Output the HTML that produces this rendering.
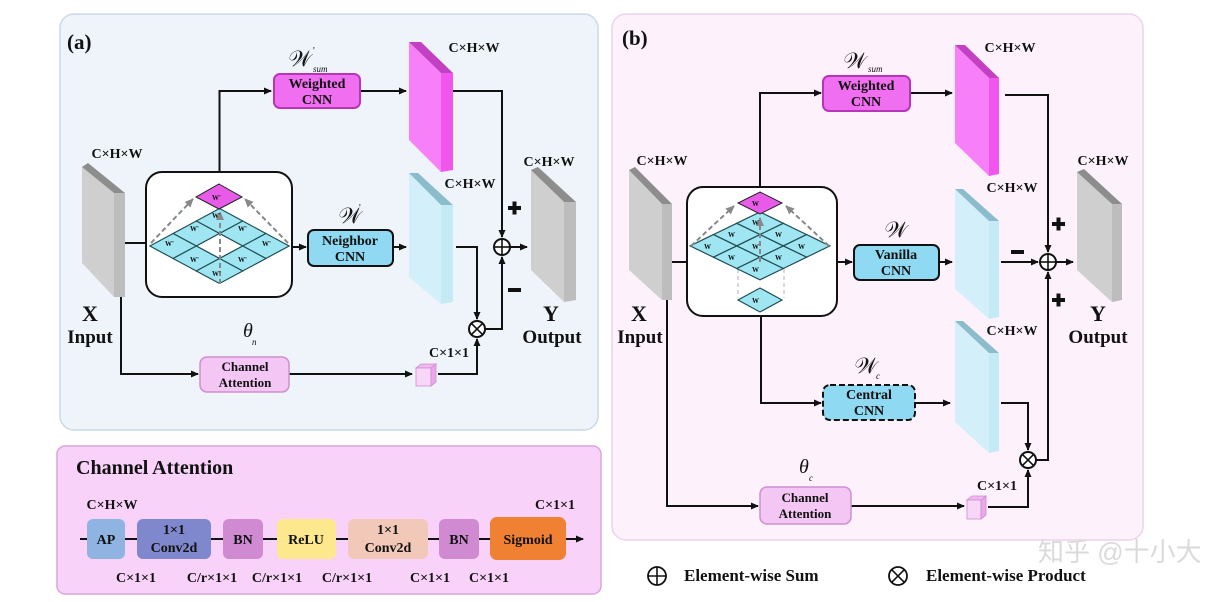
<!DOCTYPE html>
<html><head><meta charset="utf-8"><style>
html,body{margin:0;padding:0;background:#fff;}
svg{display:block;}
text{font-family:"Liberation Serif","Noto Serif CJK SC",serif;font-weight:bold;fill:#111;}
</style></head><body>
<svg width="1222" height="602" viewBox="0 0 1222 602" xmlns="http://www.w3.org/2000/svg">
<defs>
<marker id="ar" markerWidth="8" markerHeight="8" refX="7" refY="4" orient="auto" markerUnits="userSpaceOnUse"><path d="M0,0.5 L8,4 L0,7.5 z" fill="#111"/></marker>
<marker id="ag" markerWidth="9" markerHeight="9" refX="8" refY="4.5" orient="auto" markerUnits="userSpaceOnUse"><path d="M0,0.5 L9,4.5 L0,8.5 z" fill="#888"/></marker>
</defs>

<rect x="60" y="14" width="538" height="416" rx="14" fill="#eef4fa" stroke="#c9d9ea" stroke-width="1.5"/>
<rect x="612" y="14" width="531" height="526" rx="14" fill="#fdf1fb" stroke="#ecd3ea" stroke-width="1.5"/>
<rect x="57" y="446" width="544" height="148" rx="8" fill="#f8d2f8" stroke="#d9a6d9" stroke-width="1.5"/>

<!-- ===== Panel (a) ===== -->
<text x="67" y="49" font-size="21">(a)</text>

<polygon points="82,167 114,193 114,297 82,263" fill="#cfcfcf"/>
<polygon points="114,193 125,193 125,297 114,297" fill="#bdbdbd"/>
<polygon points="82,167 88,163 125,193 114,193" fill="#8d8d8d"/>
<text x="117" y="158" font-size="14" text-anchor="middle">C×H×W</text>
<text x="90" y="321" font-size="22" text-anchor="middle">X</text>
<text x="90" y="343" font-size="19" text-anchor="middle">Input</text>

<rect x="146" y="172" width="146" height="125" rx="16" fill="#fff" stroke="#111" stroke-width="2"/>
<g transform="matrix(23.2,12.5,-23.2,12.5,219.5,208.5)">
<g fill="#9fe6f2" stroke="#1f4f55" stroke-width="1.2">
<rect x="0" y="0" width="1" height="1" vector-effect="non-scaling-stroke"/>
<rect x="1" y="0" width="1" height="1" vector-effect="non-scaling-stroke"/>
<rect x="2" y="0" width="1" height="1" vector-effect="non-scaling-stroke"/>
<rect x="0" y="1" width="1" height="1" vector-effect="non-scaling-stroke"/>
<rect x="1" y="1" width="1" height="1" fill="#fff" vector-effect="non-scaling-stroke"/>
<rect x="2" y="1" width="1" height="1" vector-effect="non-scaling-stroke"/>
<rect x="0" y="2" width="1" height="1" vector-effect="non-scaling-stroke"/>
<rect x="1" y="2" width="1" height="1" vector-effect="non-scaling-stroke"/>
<rect x="2" y="2" width="1" height="1" vector-effect="non-scaling-stroke"/>
</g></g>
<polygon points="219,184 242,197 219,209 196,197" fill="#e85ae8" stroke="#222" stroke-width="1"/>
<g stroke="#888" stroke-width="2" stroke-dasharray="5,3" fill="none">
<line x1="151" y1="243" x2="193" y2="199" marker-end="url(#ag)"/>
<line x1="288" y1="243" x2="245" y2="199" marker-end="url(#ag)"/>
<line x1="220" y1="284" x2="220" y2="212" marker-end="url(#ag)"/>
</g>
<g font-size="7" fill="#335">
<text x="165" y="246">W'</text><text x="190" y="231">W'</text><text x="212" y="218">W'</text>
<text x="238" y="231">W'</text><text x="262" y="246">W'</text><text x="190" y="262">W'</text>
<text x="238" y="262">W'</text><text x="212" y="276">W'</text><text x="212" y="200">W'</text>
</g>

<g stroke="#111" stroke-width="2" fill="none">
<line x1="125" y1="243" x2="146" y2="243"/>
<polyline points="219.5,172 219.5,91 271,91" marker-end="url(#ar)"/>
<line x1="360" y1="91" x2="406" y2="91" marker-end="url(#ar)"/>
<polyline points="452,91 502,91 502,237" marker-end="url(#ar)"/>
<line x1="292" y1="247" x2="306" y2="247" marker-end="url(#ar)"/>
<line x1="393" y1="247" x2="406" y2="247" marker-end="url(#ar)"/>
<polyline points="456,247 477,247 477,319" marker-end="url(#ar)"/>
<polyline points="485,329 502,329 502,257" marker-end="url(#ar)"/>
<line x1="510" y1="247" x2="527" y2="247" marker-end="url(#ar)"/>
<polyline points="121,297 121,374 198,374" marker-end="url(#ar)"/>
<line x1="289" y1="374" x2="412" y2="374" marker-end="url(#ar)"/>
<polyline points="438,374 477,374 477,339" marker-end="url(#ar)"/>
</g>

<rect x="274" y="74" width="86" height="34" rx="6" fill="#f06ef0" stroke="#b834b8" stroke-width="2"/>
<text x="317" y="88" font-size="14" text-anchor="middle">Weighted</text>
<text x="317" y="104" font-size="14" text-anchor="middle">CNN</text>
<text x="300" y="66" font-size="22" text-anchor="middle" style="font-weight:normal">𝒲</text>
<text x="313" y="72" font-size="9" font-style="italic" style="font-weight:normal">sum</text>
<text x="313" y="54" font-size="10" style="font-weight:normal">'</text>

<polygon points="409,42 441,73 441,172 409,140" fill="#f77ff7"/>
<polygon points="441,73 453,73 453,170 441,172" fill="#f055ee"/>
<polygon points="409,42 421,42 453,73 441,73" fill="#c340c3"/>
<text x="474" y="52" font-size="14" text-anchor="middle">C×H×W</text>

<rect x="308" y="230" width="85" height="36" rx="6" fill="#8fd9f2" stroke="#111" stroke-width="2"/>
<text x="350" y="245" font-size="14" text-anchor="middle">Neighbor</text>
<text x="350" y="261" font-size="14" text-anchor="middle">CNN</text>
<text x="350" y="223" font-size="22" text-anchor="middle" style="font-weight:normal">𝒲</text>
<text x="359" y="211" font-size="10" style="font-weight:normal">'</text>

<polygon points="409,173 441,205 441,304 409,277" fill="#d3f0fa"/>
<polygon points="441,205 453,205 453,302 441,304" fill="#c4eaf6"/>
<polygon points="409,173 418,173 453,205 441,205" fill="#8bbccc"/>
<text x="470" y="188" font-size="14" text-anchor="middle">C×H×W</text>

<circle cx="502" cy="247" r="8" fill="#fff" stroke="#111" stroke-width="2"/>
<line x1="494" y1="247" x2="510" y2="247" stroke="#111" stroke-width="1.6"/>
<line x1="502" y1="239" x2="502" y2="255" stroke="#111" stroke-width="1.6"/>
<circle cx="477" cy="329" r="8" fill="#fff" stroke="#111" stroke-width="2"/>
<line x1="471.3" y1="323.3" x2="482.7" y2="334.7" stroke="#111" stroke-width="1.6"/>
<line x1="482.7" y1="323.3" x2="471.3" y2="334.7" stroke="#111" stroke-width="1.6"/>
<rect x="508" y="206" width="13" height="4" fill="#111"/>
<rect x="512.5" y="201.5" width="4" height="13" fill="#111"/>
<rect x="508" y="288" width="13" height="4" fill="#111"/>

<polygon points="531,170 564,202 564,302 531,270" fill="#cfcfcf"/>
<polygon points="564,202 576,202 576,300 564,302" fill="#bdbdbd"/>
<polygon points="531,170 538,167 576,202 564,202" fill="#8d8d8d"/>
<text x="549" y="166" font-size="14" text-anchor="middle">C×H×W</text>
<text x="551" y="321" font-size="22" text-anchor="middle">Y</text>
<text x="552" y="343" font-size="19" text-anchor="middle">Output</text>

<rect x="200" y="357" width="89" height="35" rx="7" fill="#f3c6f3" stroke="#cf8fcf" stroke-width="1.5"/>
<text x="245" y="371" font-size="13" text-anchor="middle">Channel</text>
<text x="245" y="387" font-size="13" text-anchor="middle">Attention</text>
<text x="243" y="337" font-size="20" font-style="italic" style="font-weight:normal">θ</text>
<text x="252" y="345" font-size="9" font-style="italic" style="font-weight:normal">n</text>
<polygon points="416,368 431,368 436,364 421,364" fill="#f0b8f0" stroke="#d08ad0" stroke-width="0.8"/>
<rect x="416" y="368" width="15" height="18" fill="#f8d6f8" stroke="#d08ad0" stroke-width="0.8"/>
<polygon points="431,368 436,364 436,382 431,386" fill="#eaa8ea" stroke="#d08ad0" stroke-width="0.8"/>
<text x="449" y="357" font-size="14" text-anchor="middle">C×1×1</text>

<!-- ===== Panel (b) ===== -->
<text x="622" y="45" font-size="21">(b)</text>

<polygon points="629,170 662,204 662,300 629,270" fill="#cfcfcf"/>
<polygon points="662,204 672,204 672,300 662,300" fill="#bdbdbd"/>
<polygon points="629,170 635,167 672,204 662,204" fill="#8d8d8d"/>
<text x="662" y="165" font-size="14" text-anchor="middle">C×H×W</text>
<text x="639" y="321" font-size="22" text-anchor="middle">X</text>
<text x="640" y="343" font-size="19" text-anchor="middle">Input</text>

<rect x="687" y="187" width="150" height="129" rx="16" fill="#fff" stroke="#111" stroke-width="2"/>
<g stroke="#ccc" stroke-width="1.5" stroke-dasharray="4,3">
<line x1="738" y1="262" x2="738" y2="298"/>
<line x1="784" y1="262" x2="784" y2="298"/>
</g>
<g transform="matrix(23.3,11.3,-23.3,11.3,760,212)">
<g fill="#9fe6f2" stroke="#1f4f55" stroke-width="1.2">
<rect x="0" y="0" width="1" height="1" vector-effect="non-scaling-stroke"/>
<rect x="1" y="0" width="1" height="1" vector-effect="non-scaling-stroke"/>
<rect x="2" y="0" width="1" height="1" vector-effect="non-scaling-stroke"/>
<rect x="0" y="1" width="1" height="1" vector-effect="non-scaling-stroke"/>
<rect x="1" y="1" width="1" height="1" vector-effect="non-scaling-stroke"/>
<rect x="2" y="1" width="1" height="1" vector-effect="non-scaling-stroke"/>
<rect x="0" y="2" width="1" height="1" vector-effect="non-scaling-stroke"/>
<rect x="1" y="2" width="1" height="1" vector-effect="non-scaling-stroke"/>
<rect x="2" y="2" width="1" height="1" vector-effect="non-scaling-stroke"/>
</g></g>
<polygon points="760,192 782,203 760,214 738,203" fill="#e85ae8" stroke="#222" stroke-width="1"/>
<polygon points="760,288 782,300 760,312 738,300" fill="#9fe6f2" stroke="#1f4f55" stroke-width="1.2"/>
<g stroke="#888" stroke-width="2" stroke-dasharray="5,3" fill="none">
<line x1="691" y1="246" x2="734" y2="206" marker-end="url(#ag)"/>
<line x1="829" y1="246" x2="786" y2="206" marker-end="url(#ag)"/>
<line x1="760" y1="262" x2="760" y2="218" marker-end="url(#ag)"/>
</g>
<g font-size="7" fill="#335">
<text x="704" y="249">W</text><text x="728" y="237">W</text><text x="752" y="225">W</text>
<text x="775" y="237">W</text><text x="798" y="249">W</text><text x="728" y="260">W</text>
<text x="752" y="249">W</text><text x="775" y="260">W</text><text x="752" y="272">W</text>
<text x="752" y="303">W</text><text x="752" y="206">W</text>
</g>

<g stroke="#111" stroke-width="2" fill="none">
<line x1="672" y1="262" x2="687" y2="262"/>
<polyline points="760,187 760,93 821,93" marker-end="url(#ar)"/>
<line x1="910" y1="93" x2="952" y2="93" marker-end="url(#ar)"/>
<polyline points="1005,95 1048,95 1048,252" marker-end="url(#ar)"/>
<line x1="837" y1="262" x2="852" y2="262" marker-end="url(#ar)"/>
<line x1="939" y1="262" x2="952" y2="262" marker-end="url(#ar)"/>
<line x1="1001" y1="262" x2="1038" y2="262" marker-end="url(#ar)"/>
<line x1="1056" y1="262" x2="1073" y2="262" marker-end="url(#ar)"/>
<polyline points="761,316 761,403 821,403" marker-end="url(#ar)"/>
<line x1="915" y1="403" x2="950" y2="403" marker-end="url(#ar)"/>
<polyline points="1001,403 1028,403 1028,450" marker-end="url(#ar)"/>
<polyline points="1036,460 1048,460 1048,272" marker-end="url(#ar)"/>
<polyline points="667,300 667,506 758,506" marker-end="url(#ar)"/>
<line x1="851" y1="506" x2="964" y2="506" marker-end="url(#ar)"/>
<polyline points="988,507 1028,507 1028,470" marker-end="url(#ar)"/>
</g>

<rect x="823" y="76" width="87" height="35" rx="6" fill="#f06ef0" stroke="#b834b8" stroke-width="2"/>
<text x="866" y="90" font-size="14" text-anchor="middle">Weighted</text>
<text x="866" y="106" font-size="14" text-anchor="middle">CNN</text>
<text x="855" y="68" font-size="22" text-anchor="middle" style="font-weight:normal">𝒲</text>
<text x="868" y="72" font-size="9" font-style="italic" style="font-weight:normal">sum</text>

<polygon points="955,45 989,78 989,176 955,143" fill="#f77ff7"/>
<polygon points="989,78 999,78 999,174 989,176" fill="#f055ee"/>
<polygon points="955,45 965,45 999,78 989,78" fill="#c340c3"/>
<text x="1010" y="52" font-size="14" text-anchor="middle">C×H×W</text>

<rect x="854" y="245" width="85" height="35" rx="6" fill="#8fd9f2" stroke="#111" stroke-width="2"/>
<text x="896" y="259" font-size="14" text-anchor="middle">Vanilla</text>
<text x="896" y="275" font-size="14" text-anchor="middle">CNN</text>
<text x="896" y="237" font-size="22" text-anchor="middle" style="font-weight:normal">𝒲</text>

<polygon points="955,189 989,221 989,319 955,289" fill="#d3f0fa"/>
<polygon points="989,221 999,221 999,317 989,319" fill="#c4eaf6"/>
<polygon points="955,189 963,189 999,221 989,221" fill="#8bbccc"/>
<text x="1012" y="192" font-size="14" text-anchor="middle">C×H×W</text>

<rect x="823" y="385" width="92" height="35" rx="7" fill="#8fd9f2" stroke="#111" stroke-width="2" stroke-dasharray="6,3"/>
<text x="869" y="399" font-size="14" text-anchor="middle">Central</text>
<text x="869" y="415" font-size="14" text-anchor="middle">CNN</text>
<text x="866" y="373" font-size="22" text-anchor="middle" style="font-weight:normal">𝒲</text>
<text x="876" y="379" font-size="9" font-style="italic" style="font-weight:normal">c</text>

<polygon points="955,321 989,353 989,453 955,422" fill="#d3f0fa"/>
<polygon points="989,353 999,353 999,451 989,453" fill="#c4eaf6"/>
<polygon points="955,321 963,321 999,353 989,353" fill="#8bbccc"/>
<text x="1012" y="335" font-size="14" text-anchor="middle">C×H×W</text>

<circle cx="1048" cy="262" r="8" fill="#fff" stroke="#111" stroke-width="2"/>
<line x1="1040" y1="262" x2="1056" y2="262" stroke="#111" stroke-width="1.6"/>
<line x1="1048" y1="254" x2="1048" y2="270" stroke="#111" stroke-width="1.6"/>
<circle cx="1028" cy="460" r="8" fill="#fff" stroke="#111" stroke-width="2"/>
<line x1="1022.3" y1="454.3" x2="1033.7" y2="465.7" stroke="#111" stroke-width="1.6"/>
<line x1="1033.7" y1="454.3" x2="1022.3" y2="465.7" stroke="#111" stroke-width="1.6"/>
<rect x="1052" y="222" width="13" height="4" fill="#111"/>
<rect x="1056.5" y="217.5" width="4" height="13" fill="#111"/>
<rect x="1052" y="298" width="13" height="4" fill="#111"/>
<rect x="1056.5" y="293.5" width="4" height="13" fill="#111"/>
<rect x="1011" y="250" width="13" height="4" fill="#111"/>

<polygon points="1077,172 1112,204 1112,302 1077,270" fill="#cfcfcf"/>
<polygon points="1112,204 1122,204 1122,300 1112,302" fill="#bdbdbd"/>
<polygon points="1077,172 1084,169 1122,204 1112,204" fill="#8d8d8d"/>
<text x="1103" y="165" font-size="14" text-anchor="middle">C×H×W</text>
<text x="1098" y="321" font-size="22" text-anchor="middle">Y</text>
<text x="1098" y="343" font-size="19" text-anchor="middle">Output</text>

<rect x="760" y="487" width="91" height="37" rx="7" fill="#f3c6f3" stroke="#cf8fcf" stroke-width="1.5"/>
<text x="805" y="502" font-size="13" text-anchor="middle">Channel</text>
<text x="805" y="518" font-size="13" text-anchor="middle">Attention</text>
<text x="799" y="473" font-size="20" font-style="italic" style="font-weight:normal">θ</text>
<text x="809" y="481" font-size="9" font-style="italic" style="font-weight:normal">c</text>
<polygon points="967,500 981,500 986,496 972,496" fill="#f0b8f0" stroke="#d08ad0" stroke-width="0.8"/>
<rect x="967" y="500" width="14" height="19" fill="#f8d6f8" stroke="#d08ad0" stroke-width="0.8"/>
<polygon points="981,500 986,496 986,515 981,519" fill="#eaa8ea" stroke="#d08ad0" stroke-width="0.8"/>
<text x="997" y="490" font-size="14" text-anchor="middle">C×1×1</text>

<!-- ===== Channel Attention detail ===== -->
<text x="76" y="474" font-size="20">Channel Attention</text>
<text x="112" y="509" font-size="14" text-anchor="middle">C×H×W</text>
<text x="555" y="509" font-size="14" text-anchor="middle">C×1×1</text>
<line x1="80" y1="539" x2="583" y2="539" stroke="#111" stroke-width="2" marker-end="url(#ar)"/>
<rect x="87" y="519" width="38" height="40" rx="6" fill="#8fb4e2"/>
<text x="106" y="544" font-size="14" text-anchor="middle">AP</text>
<rect x="137" y="519" width="74" height="40" rx="6" fill="#7f88cc"/>
<text x="174" y="534" font-size="14" text-anchor="middle">1×1</text>
<text x="174" y="552" font-size="14" text-anchor="middle">Conv2d</text>
<rect x="223" y="519" width="40" height="40" rx="6" fill="#d08ad2"/>
<text x="243" y="544" font-size="14" text-anchor="middle">BN</text>
<rect x="277" y="519" width="59" height="40" rx="6" fill="#fde88e"/>
<text x="306" y="544" font-size="14" text-anchor="middle">ReLU</text>
<rect x="348" y="519" width="80" height="40" rx="6" fill="#f2c9b8"/>
<text x="388" y="534" font-size="14" text-anchor="middle">1×1</text>
<text x="388" y="552" font-size="14" text-anchor="middle">Conv2d</text>
<rect x="439" y="519" width="40" height="40" rx="6" fill="#d08ad2"/>
<text x="459" y="544" font-size="14" text-anchor="middle">BN</text>
<rect x="490" y="517" width="76" height="43" rx="7" fill="#f08032"/>
<text x="528" y="544" font-size="14" text-anchor="middle">Sigmoid</text>
<g font-size="14" text-anchor="middle">
<text x="136" y="582">C×1×1</text>
<text x="212" y="582">C/r×1×1</text>
<text x="277" y="582">C/r×1×1</text>
<text x="347" y="582">C/r×1×1</text>
<text x="430" y="582">C×1×1</text>
<text x="489" y="582">C×1×1</text>
</g>

<!-- Legend -->
<circle cx="657" cy="576" r="9" fill="none" stroke="#111" stroke-width="1.8"/>
<line x1="648" y1="576" x2="666" y2="576" stroke="#111" stroke-width="1.6"/>
<line x1="657" y1="567" x2="657" y2="585" stroke="#111" stroke-width="1.6"/>
<text x="684" y="581" font-size="17">Element-wise Sum</text>
<circle cx="898" cy="576" r="9" fill="none" stroke="#111" stroke-width="1.8"/>
<line x1="891.6" y1="569.6" x2="904.4" y2="582.4" stroke="#111" stroke-width="1.6"/>
<line x1="904.4" y1="569.6" x2="891.6" y2="582.4" stroke="#111" stroke-width="1.6"/>
<text x="926" y="581" font-size="17">Element-wise Product</text>
<text x="1038" y="561" font-size="26" style="font-weight:normal;fill:#dadada;font-family:'Liberation Sans','Noto Sans CJK SC',sans-serif">知乎 @十小大</text>
</svg>
</body></html>
